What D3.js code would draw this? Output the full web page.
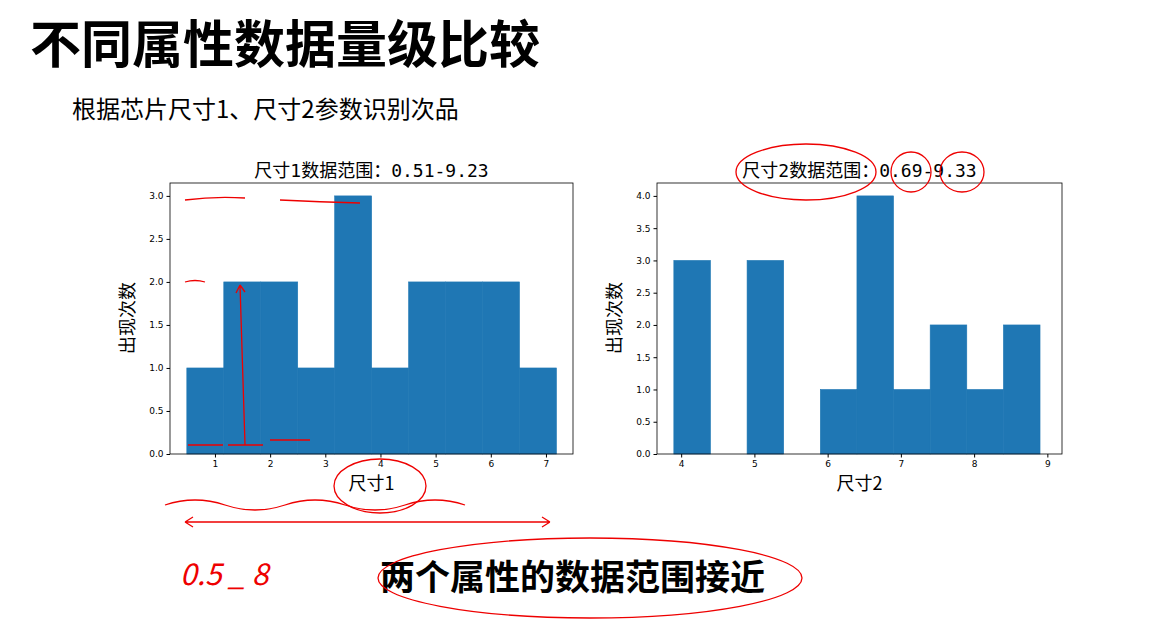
<!DOCTYPE html>
<html>
<head>
<meta charset="utf-8">
<script src="https://d3js.org/d3.v7.min.js"></script>
<style>
  body { margin: 0; background: #fff; font-family: "Noto Sans CJK SC", sans-serif; }
</style>
</head>
<body>
<svg id="slide" width="1171" height="621"></svg>
<script>
// histogram data
const size1Bins = [0.49, 1.16, 1.83, 2.50, 3.17, 3.84, 4.51, 5.18, 5.85, 6.52, 7.19];
const size1Counts = [1, 2, 2, 1, 3, 1, 2, 2, 2, 1];
const size1Ticks = [1, 2, 3, 4, 5, 6, 7];
const size1YTicks = [0, 0.5, 1.0, 1.5, 2.0, 2.5, 3.0];

const size2Bins = [3.90, 4.40, 4.90, 5.40, 5.90, 6.40, 6.90, 7.40, 7.90, 8.40, 8.90];
const size2Counts = [3, 0, 3, 0, 1, 4, 1, 2, 1, 2];
const size2Ticks = [4, 5, 6, 7, 8, 9];
const size2YTicks = [0, 0.5, 1.0, 1.5, 2.0, 2.5, 3.0, 3.5, 4.0];

const svg = d3.select('#slide');

svg.append('text').attr('x', 30).attr('y', 63)
  .attr('font-size', 51).attr('font-weight', 'bold').text('不同属性数据量级比较');
svg.append('text').attr('x', 72).attr('y', 118)
  .attr('font-size', 24).text('根据芯片尺寸1、尺寸2参数识别次品');
svg.append('text').attr('x', 380).attr('y', 590)
  .attr('font-size', 35).attr('font-weight', 'bold').text('两个属性的数据范围接近');

function histogram(opt) {
  const g = svg.append('g');
  const x = d3.scaleLinear().domain(opt.xDomain).range([opt.left, opt.right]);
  const y = d3.scaleLinear().domain(opt.yDomain).range([454, 183]);
  const data = opt.counts.map((c, i) => ({ x0: opt.bins[i], x1: opt.bins[i + 1], c }));
  g.selectAll('rect').data(data).join('rect')
    .attr('x', d => x(d.x0)).attr('width', d => x(d.x1) - x(d.x0))
    .attr('y', d => y(d.c)).attr('height', d => y(0) - y(d.c))
    .attr('fill', '#1f77b4').attr('stroke', '#1f77b4').attr('stroke-width', 0.6);
  g.append('rect').attr('x', opt.left).attr('y', 183)
    .attr('width', opt.right - opt.left).attr('height', 271)
    .attr('fill', 'none').attr('stroke', '#000').attr('stroke-width', 0.8);
  const xa = g.append('g').attr('transform', 'translate(0,454)')
    .call(d3.axisBottom(x).tickValues(opt.xTicks).tickSize(3.5).tickFormat(d3.format('d')));
  const ya = g.append('g').attr('transform', `translate(${opt.left},0)`)
    .call(d3.axisLeft(y).tickValues(opt.yTicks).tickSize(3.5).tickFormat(d3.format('.1f')));
  [xa, ya].forEach(a => {
    a.select('.domain').remove();
    a.selectAll('text').attr('font-size', 9).attr('font-family', 'DejaVu Sans');
  });
  const cx = (opt.left + opt.right) / 2;
  g.append('text').attr('x', cx).attr('y', 177).attr('text-anchor', 'middle')
    .attr('font-size', 18).attr('font-family', '"DejaVu Sans Mono", "Noto Sans CJK SC"')
    .text(opt.title);
  g.append('text').attr('x', cx).attr('y', 490).attr('text-anchor', 'middle')
    .attr('font-size', 18).text(opt.xLabel);
  g.append('text').attr('transform', `translate(${opt.left - 36},318) rotate(-90)`)
    .attr('text-anchor', 'middle').attr('font-size', 18).text('出现次数');
}

histogram({ left: 170, right: 573, xDomain: [0.185, 7.49], yDomain: [0, 3.15],
  bins: size1Bins, counts: size1Counts, xTicks: size1Ticks, yTicks: size1YTicks,
  title: '尺寸1数据范围：0.51-9.23', xLabel: '尺寸1' });
histogram({ left: 657, right: 1062, xDomain: [3.67, 9.2], yDomain: [0, 4.2],
  bins: size2Bins, counts: size2Counts, xTicks: size2Ticks, yTicks: size2YTicks,
  title: '尺寸2数据范围：0.69-9.33', xLabel: '尺寸2' });

// red hand annotations (decorative)
const red = svg.append('g').attr('fill', 'none').attr('stroke', '#e00').attr('stroke-width', 1.3);
red.append('ellipse').attr('cx', 380).attr('cy', 486).attr('rx', 46).attr('ry', 27);
red.append('ellipse').attr('cx', 806).attr('cy', 172).attr('rx', 70).attr('ry', 28);
red.append('ellipse').attr('cx', 911).attr('cy', 172).attr('rx', 20).attr('ry', 20);
red.append('ellipse').attr('cx', 962).attr('cy', 172).attr('rx', 22).attr('ry', 20);
red.append('ellipse').attr('cx', 590).attr('cy', 578).attr('rx', 212).attr('ry', 40);
red.append('path').attr('d', 'M185,522 L550,522 M185,522 l8,-5 M185,522 l8,5 M550,522 l-8,-5 M550,522 l-8,5');
red.append('path').attr('d', 'M165,505 q30,-10 60,0 t60,0 t60,0 t60,0 t60,0');
red.append('path').attr('d', 'M240,285 L245,445 M240,285 l-4,8 M240,285 l5,7');
red.append('path').attr('d', 'M188,445 h35 M228,445 h35 M270,440 h40');
red.append('path').attr('d', 'M185,200 q30,-4 60,-2 M280,200 q40,2 80,3 M185,282 q10,-3 20,0');
svg.append('text').attr('x', 180).attr('y', 585).attr('fill', '#e00')
  .attr('font-size', 30).attr('font-style', 'italic').text('0.5 _ 8');
</script>
</body>
</html>
